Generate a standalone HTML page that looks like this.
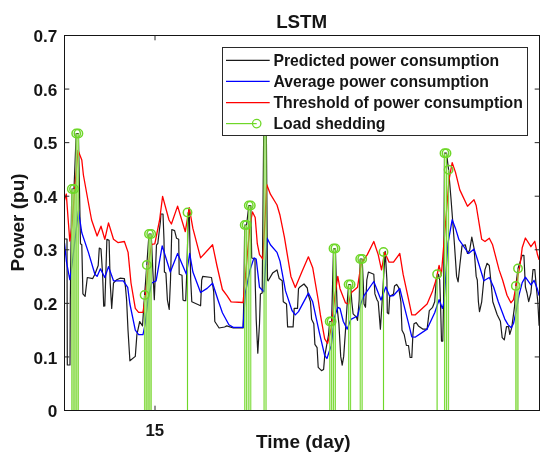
<!DOCTYPE html>
<html><head><meta charset="utf-8"><title>LSTM</title>
<style>html,body{margin:0;padding:0;background:#fff}svg{display:block}text{font-family:"Liberation Sans",Arial,Helvetica,sans-serif;font-weight:bold;fill:#151515}</style></head>
<body>
<svg width="550" height="460" viewBox="0 0 550 460">
<rect x="0" y="0" width="550" height="460" fill="#ffffff"/>
<defs><clipPath id="ax"><rect x="64.5" y="35.5" width="475" height="375"/></clipPath></defs>
<g clip-path="url(#ax)" fill="none" stroke-linejoin="round">
<polyline stroke="#1c1c1c" stroke-width="1.2" points="64.5,239 67,239 67.3,365 70,365 70.3,300 70.8,260 71.8,189 74,189 76.2,133.5 78.4,133.5 80.5,243.7 81.8,244.8 82.9,293.9 85.1,296.4 87.3,277.5 92.7,278.6 94.9,274.2 98.2,265.5 99.3,248 101,249.1 102.6,274.2 103.7,306.2 104.8,306 106.9,239.3 109.1,240.4 110.2,283 111.7,308.4 113.5,283 116.8,279.7 120,278.2 124.4,278.6 125.5,287.3 126.6,300 128,330 129.9,360.8 135.3,356.4 136.9,334.6 139.7,321.5 142.5,325.9 144.6,295 146.8,265 149,234 151.2,234 152.8,270 154.3,299.7 155.8,262 156.5,244.8 157.8,243.5 160.4,221.8 160.9,214 163,214 164,240 164.4,272 165.9,273.1 167.4,300 169.2,309.5 170.5,280 171.8,229.5 174.6,230.6 176.5,238.2 178.7,239.3 179.2,274.2 182,275.3 183,300 184.2,300.7 185.7,300.7 186.5,280 188.5,212 189.2,208.7 190.7,280 191.8,301.8 200.6,305.8 201.7,280 202.7,276.4 211.5,277.5 213.7,291.7 214.8,321.5 219.1,328 224.6,327 226.8,325.9 233.3,328 243.1,328 243.8,300 244.7,225 246.6,225 248.8,205.5 250.8,205.5 251.7,258 255,259 255.2,282 256.2,319.3 257.8,353.1 259.5,323.7 260.4,294 262.2,293 264,100 266.1,100 267.5,280 268.2,280.8 272.6,273.1 277,269.9 279.2,278.6 282.2,280.8 283.3,301.8 286.5,304 287.6,326.9 293.1,326.9 294.2,308.4 297.5,308.4 298.5,288.7 299.6,287.3 304,284 307.3,288 308.4,295.3 310.5,301.8 311.6,319.3 313.8,323.7 314.9,344.4 317.1,347.7 318.2,367.3 321.5,370.6 323.6,369.5 324.7,356.4 328.5,335 329.7,321.5 331.6,321.5 333.5,248.8 335.4,248.8 336.4,285 337.2,308.4 338.9,323.7 340.7,356.4 342.2,365.1 343.7,356.4 345.5,330.2 347.3,301.8 348.6,284.5 350.6,284.5 351.8,301.8 353.1,313.8 356.4,317.1 357.5,320.4 359.2,300 360.2,259 362.2,259 363.1,280 364,304 365.5,307.3 366.8,280 368.4,272 373.8,274.2 374.9,293.9 377.1,300 378.2,301.8 380.4,329.1 382.1,301.8 385.2,251.3 386.9,280 387.3,312.7 388.7,313.8 389.7,296.4 393.5,293.9 394.5,286 396.6,284.4 398.7,287.6 400.9,301.8 402,330.2 404.2,334.6 406.4,345.5 408.5,345.5 410.1,357.5 411.8,357.5 412.9,334.6 414,323.7 416.2,322.6 418.4,325.9 422.7,329.1 427.1,329.1 429.3,310.6 432.6,307.3 434.7,301.8 436.3,280 438.5,274.2 439.7,280 440.6,306.2 441.5,341.1 442.8,341.1 443.6,300 444.5,153.2 446.5,153.2 448.6,169.8 451.1,200 454.4,243.7 456.6,276.4 458.1,281.9 459.8,265.5 462,245.9 465.3,244.8 467.5,253.5 469.7,250.2 471.8,237.1 474,248 476.2,276.4 477.3,280 478.4,301.8 479.5,311.7 481.7,301.8 483.8,280 484.9,269.9 487.1,263.3 489.3,265.5 491.5,287.3 492.8,301.7 497.2,314.8 500.4,321.3 502.2,337.6 504.3,339.8 506.5,326.7 508.5,326.7 509.8,334.3 511.7,327.8 514.6,306.1 515.8,285.9 518,268.5 522.2,255.4 523.9,255.4 525.4,287 527,293 528.7,301.7 530.9,293 533,269.6 534.8,269.6 536.3,287 537.8,301.7 539.1,325.7"/>
<polyline stroke="#0000ff" stroke-width="1.3" points="64.5,243 66.5,262 69.8,279.7 72,265 75,240 78.5,210.5 81.8,232.8 88.4,252.4 94.9,274.2 97.1,276.4 100.4,268.8 104.8,277.5 108.5,266.6 113.5,280.8 123.3,280.8 127.7,287.3 129.9,304 135.3,330.2 138.6,334.6 143,334.6 145.2,323.7 148,300 151.7,283 156.1,280.8 162.2,245.9 170.3,272 177.6,253.5 186.4,274.2 189.7,253.5 192.9,272 200.6,292.5 207.1,288.4 212.6,283.2 218,300 222.4,312.8 228.9,324.8 233.3,327.4 243.1,327.4 245.3,293 250,270 254,257.9 256.2,259 259.5,287.3 263.9,291.7 267.2,238.2 270.4,244.8 277,252.4 280,261.1 285.5,290.9 292,310.5 295.3,314.9 298.5,311.6 308.4,293.1 312.7,301.8 319.3,332.4 324.7,355.3 326.9,358.5 331.3,345.4 334.5,317.1 337.8,307.3 340,308.4 343.3,321.5 347.2,329.1 350.9,319.3 357.5,316 360.7,304 364,295.6 373.8,281.5 381,300 385.8,287 389.7,296.2 393.5,295.5 399.8,288.5 403.1,301.8 408.6,323.7 411.8,336.8 415.1,337.2 427.1,329.1 434.7,312.7 439.1,299.7 442.4,308.4 444.1,301.8 447.9,243.7 452.2,219.7 455.5,228.4 458.8,239.3 468.6,253.5 474.1,249.1 477.3,259 483.9,280.8 489.3,277.5 493.7,287.3 498.3,301.7 504.8,319.1 508,324.6 511.3,327.8 513.5,323.5 516.7,308.3 518.9,295.7 522.2,282.6 525.4,277.2 530.9,284.8 534.1,280.4 537.4,289.1 539.1,295.7"/>
<polyline stroke="#ff0000" stroke-width="1.3" points="64.4,200.5 66.3,194 68.2,220 69.8,241 72,225 75,185 78,150.3 81.8,160 83.4,175 87.9,200 91.6,220 97.1,236 101,226.2 104.8,239.3 108.5,222.9 113.5,239.3 117.9,242.6 124.4,241.5 128.1,252.4 131,283 135.3,308.4 138.6,312.3 143,312.3 145.5,295 149,260 151.7,244.3 154.8,243.9 159.6,220 162.6,196.4 169,220 171.4,224 177.6,206.1 185.3,231.7 189.2,207.6 192.9,228.4 200.6,257.9 212.6,244.8 216.9,265.5 222.4,289.5 226.8,295.3 231.1,301.8 243.1,302.5 246,270 250,225 252.5,212 255.2,217.5 257.3,243.7 259.5,254.6 262.8,259 265,220 266.7,184.4 270.4,194.2 277,205 280,215.3 284.4,237.1 290.9,276.4 295.3,287.5 301.8,272 308.4,256.8 312.7,267.7 318.2,300 320.4,314.9 324.7,338.9 327.6,343.3 331.3,328 335,295 337.8,276.4 340,288.7 345.5,302.9 348.7,304 350.9,293.1 357.5,287.3 361.2,263.3 367.3,254.6 373.8,241.5 378.2,254.6 381.5,269.9 384.7,252.4 389.1,262.2 393.5,262.2 399.8,253.5 403.1,274.2 408.6,299.7 411.8,314.9 415.1,314.9 427.1,304 432.6,290.9 435.8,280.8 439.1,265.5 441.3,275.3 445,230 449,180 452.2,162.6 455.5,172.4 459.8,189.9 467.5,206.2 474,199.7 476.2,205.5 481.7,239.3 485,241.5 489.3,238.2 492.6,244.8 499.1,269.9 502.6,280 507,295.2 510.9,302.8 513.5,299.6 516.7,282.6 520,265.2 522.2,247.8 525.4,238 530.9,246.7 534.8,241.3 537.4,254.3 539.1,259.8"/>
<polygon fill="#83db3e" fill-opacity="0.52" points="71.8,410.5 71.8,189 74,189 74,410.5"/><polygon fill="#83db3e" fill-opacity="0.52" points="74,410.5 74,189 76.2,189 76.2,410.5"/><polygon fill="#83db3e" fill-opacity="0.52" points="76.2,410.5 76.2,133.5 78.4,133.5 78.4,410.5"/><polygon fill="#83db3e" fill-opacity="0.52" points="144.6,410.5 144.6,295 146.8,295 146.8,410.5"/><polygon fill="#83db3e" fill-opacity="0.52" points="146.8,410.5 146.8,265 149,265 149,410.5"/><polygon fill="#83db3e" fill-opacity="0.52" points="149,410.5 149,234 151.2,234 151.2,410.5"/><polygon fill="#83db3e" fill-opacity="0.3" points="244.7,410.5 244.7,225 246.6,225 246.6,410.5"/><polygon fill="#83db3e" fill-opacity="0.3" points="246.6,410.5 246.6,225 248.8,225 248.8,410.5"/><polygon fill="#83db3e" fill-opacity="0.3" points="248.8,410.5 248.8,205.5 250.8,205.5 250.8,410.5"/><polygon fill="#83db3e" fill-opacity="0.3" points="264,410.5 264,100 266.1,100 266.1,410.5"/><polygon fill="#83db3e" fill-opacity="0.3" points="329.7,410.5 329.7,321.5 331.6,321.5 331.6,410.5"/><polygon fill="#83db3e" fill-opacity="0.3" points="331.6,410.5 331.6,321.5 333.5,321.5 333.5,410.5"/><polygon fill="#83db3e" fill-opacity="0.3" points="333.5,410.5 333.5,248.5 335.4,248.5 335.4,410.5"/><polygon fill="#83db3e" fill-opacity="0.3" points="348.6,410.5 348.6,284.5 350.6,284.5 350.6,410.5"/><polygon fill="#83db3e" fill-opacity="0.3" points="360.2,410.5 360.2,259 362.2,259 362.2,410.5"/><polygon fill="#83db3e" fill-opacity="0.3" points="444.5,410.5 444.5,153.2 446.5,153.2 446.5,410.5"/><polygon fill="#83db3e" fill-opacity="0.3" points="446.5,410.5 446.5,169.8 448.6,169.8 448.6,410.5"/><polygon fill="#83db3e" fill-opacity="0.52" points="515.8,410.5 515.8,285.9 518,285.9 518,410.5"/>
<g stroke="#6ed728" stroke-width="1.15">
<line x1="71.8" y1="410.5" x2="71.8" y2="189" stroke="#8edc50" stroke-width="1.3"/><line x1="74" y1="410.5" x2="74" y2="189" stroke="#8edc50" stroke-width="1.3"/><line x1="76.2" y1="410.5" x2="76.2" y2="133.5" stroke="#8edc50" stroke-width="1.3"/><line x1="78.4" y1="410.5" x2="78.4" y2="133.5" stroke="#8edc50" stroke-width="1.3"/><line x1="144.6" y1="410.5" x2="144.6" y2="295" stroke="#8edc50" stroke-width="1.3"/><line x1="146.8" y1="410.5" x2="146.8" y2="265" stroke="#8edc50" stroke-width="1.3"/><line x1="149" y1="410.5" x2="149" y2="234" stroke="#8edc50" stroke-width="1.3"/><line x1="151.2" y1="410.5" x2="151.2" y2="234" stroke="#8edc50" stroke-width="1.3"/><line x1="187.5" y1="410.5" x2="187.5" y2="212.5"/><line x1="244.7" y1="410.5" x2="244.7" y2="225" stroke="#7cdb3a" stroke-width="1.05"/><line x1="246.6" y1="410.5" x2="246.6" y2="225" stroke="#7cdb3a" stroke-width="1.05"/><line x1="248.8" y1="410.5" x2="248.8" y2="205.5" stroke="#7cdb3a" stroke-width="1.05"/><line x1="250.8" y1="410.5" x2="250.8" y2="205.5" stroke="#7cdb3a" stroke-width="1.05"/><line x1="264" y1="410.5" x2="264" y2="100" stroke="#7cdb3a" stroke-width="1.05"/><line x1="266.1" y1="410.5" x2="266.1" y2="100" stroke="#7cdb3a" stroke-width="1.05"/><line x1="329.7" y1="410.5" x2="329.7" y2="321.5" stroke="#7cdb3a" stroke-width="1.05"/><line x1="331.6" y1="410.5" x2="331.6" y2="321.5" stroke="#7cdb3a" stroke-width="1.05"/><line x1="333.5" y1="410.5" x2="333.5" y2="248.5" stroke="#7cdb3a" stroke-width="1.05"/><line x1="335.4" y1="410.5" x2="335.4" y2="248.5" stroke="#7cdb3a" stroke-width="1.05"/><line x1="348.6" y1="410.5" x2="348.6" y2="284.5" stroke="#7cdb3a" stroke-width="1.05"/><line x1="350.6" y1="410.5" x2="350.6" y2="284.5" stroke="#7cdb3a" stroke-width="1.05"/><line x1="360.2" y1="410.5" x2="360.2" y2="259" stroke="#7cdb3a" stroke-width="1.05"/><line x1="362.2" y1="410.5" x2="362.2" y2="259" stroke="#7cdb3a" stroke-width="1.05"/><line x1="383.5" y1="410.5" x2="383.5" y2="252"/><line x1="437.1" y1="410.5" x2="437.1" y2="274.2"/><line x1="444.5" y1="410.5" x2="444.5" y2="153.2" stroke="#7cdb3a" stroke-width="1.05"/><line x1="446.5" y1="410.5" x2="446.5" y2="153.2" stroke="#7cdb3a" stroke-width="1.05"/><line x1="448.6" y1="410.5" x2="448.6" y2="169.8" stroke="#7cdb3a" stroke-width="1.05"/><line x1="515.8" y1="410.5" x2="515.8" y2="285.9" stroke="#8edc50" stroke-width="1.3"/><line x1="518" y1="410.5" x2="518" y2="268.5" stroke="#8edc50" stroke-width="1.3"/>
<circle cx="71.8" cy="189" r="4.2" stroke-width="1.5"/><circle cx="74" cy="189" r="4.2" stroke-width="1.5"/><circle cx="76.2" cy="133.5" r="4.2" stroke-width="1.5"/><circle cx="78.4" cy="133.5" r="4.2" stroke-width="1.5"/><circle cx="144.6" cy="295" r="4.2" stroke-width="1.5"/><circle cx="146.8" cy="265" r="4.2" stroke-width="1.5"/><circle cx="149" cy="234" r="4.2" stroke-width="1.5"/><circle cx="151.2" cy="234" r="4.2" stroke-width="1.5"/><circle cx="187.5" cy="212.5" r="4.2" stroke-width="1.5"/><circle cx="244.7" cy="225" r="4.2" stroke-width="1.5"/><circle cx="246.6" cy="225" r="4.2" stroke-width="1.5"/><circle cx="248.8" cy="205.5" r="4.2" stroke-width="1.5"/><circle cx="250.8" cy="205.5" r="4.2" stroke-width="1.5"/><circle cx="264" cy="100" r="4.2" stroke-width="1.5"/><circle cx="266.1" cy="100" r="4.2" stroke-width="1.5"/><circle cx="329.7" cy="321.5" r="4.2" stroke-width="1.5"/><circle cx="331.6" cy="321.5" r="4.2" stroke-width="1.5"/><circle cx="333.5" cy="248.5" r="4.2" stroke-width="1.5"/><circle cx="335.4" cy="248.5" r="4.2" stroke-width="1.5"/><circle cx="348.6" cy="284.5" r="4.2" stroke-width="1.5"/><circle cx="350.6" cy="284.5" r="4.2" stroke-width="1.5"/><circle cx="360.2" cy="259" r="4.2" stroke-width="1.5"/><circle cx="362.2" cy="259" r="4.2" stroke-width="1.5"/><circle cx="383.5" cy="252" r="4.2" stroke-width="1.5"/><circle cx="437.1" cy="274.2" r="4.2" stroke-width="1.5"/><circle cx="444.5" cy="153.2" r="4.2" stroke-width="1.5"/><circle cx="446.5" cy="153.2" r="4.2" stroke-width="1.5"/><circle cx="448.6" cy="169.8" r="4.2" stroke-width="1.5"/><circle cx="515.8" cy="285.9" r="4.2" stroke-width="1.5"/><circle cx="518" cy="268.5" r="4.2" stroke-width="1.5"/>
</g>
</g>
<rect x="64.5" y="35.5" width="475" height="375" fill="none" stroke="#151515" stroke-width="1"/>
<g stroke="#262626" stroke-width="1">
<line x1="64.5" y1="356.929" x2="69.3" y2="356.929"/><line x1="539.5" y1="356.929" x2="534.7" y2="356.929"/><line x1="64.5" y1="303.357" x2="69.3" y2="303.357"/><line x1="539.5" y1="303.357" x2="534.7" y2="303.357"/><line x1="64.5" y1="249.786" x2="69.3" y2="249.786"/><line x1="539.5" y1="249.786" x2="534.7" y2="249.786"/><line x1="64.5" y1="196.214" x2="69.3" y2="196.214"/><line x1="539.5" y1="196.214" x2="534.7" y2="196.214"/><line x1="64.5" y1="142.643" x2="69.3" y2="142.643"/><line x1="539.5" y1="142.643" x2="534.7" y2="142.643"/><line x1="64.5" y1="89.0714" x2="69.3" y2="89.0714"/><line x1="539.5" y1="89.0714" x2="534.7" y2="89.0714"/><line x1="155" y1="410.5" x2="155" y2="405.7"/><line x1="155" y1="35.5" x2="155" y2="40.3"/>
</g>
<g font-size="17.2" text-anchor="end">
<text x="57.4" y="417.1">0</text><text x="57.4" y="363.529">0.1</text><text x="57.4" y="309.957">0.2</text><text x="57.4" y="256.386">0.3</text><text x="57.4" y="202.814">0.4</text><text x="57.4" y="149.243">0.5</text><text x="57.4" y="95.6714">0.6</text><text x="57.4" y="42.1">0.7</text>
</g>
<text x="154.8" y="435.6" font-size="16.8" text-anchor="middle">15</text>
<text x="303.3" y="448.4" font-size="19" text-anchor="middle">Time (day)</text>
<text x="301.7" y="27.7" font-size="18.8" text-anchor="middle">LSTM</text>
<text transform="translate(24,222.5) rotate(-90)" font-size="19" text-anchor="middle">Power (pu)</text>
<rect x="222.5" y="47.5" width="305" height="88" fill="#ffffff" stroke="#2a2a2a" stroke-width="1"/>
<line x1="226" y1="60.3" x2="269.7" y2="60.3" stroke="#1a1a1a" stroke-width="1.25"/><text x="273.4" y="65.9" font-size="15.75">Predicted power consumption</text>
<line x1="226" y1="81.4" x2="269.7" y2="81.4" stroke="#0000ff" stroke-width="1.25"/><text x="273.4" y="87" font-size="15.75">Average power consumption</text>
<line x1="226" y1="102.5" x2="269.7" y2="102.5" stroke="#ff0000" stroke-width="1.25"/><text x="273.4" y="108.1" font-size="15.75">Threshold of power consumption</text>
<line x1="226" y1="123.6" x2="256.7" y2="123.6" stroke="#6ed728" stroke-width="1.2"/><circle cx="256.7" cy="123.6" r="4.2" fill="none" stroke="#6ed728" stroke-width="1.3"/><text x="273.4" y="129.2" font-size="15.75">Load shedding</text>
</svg>
</body></html>
